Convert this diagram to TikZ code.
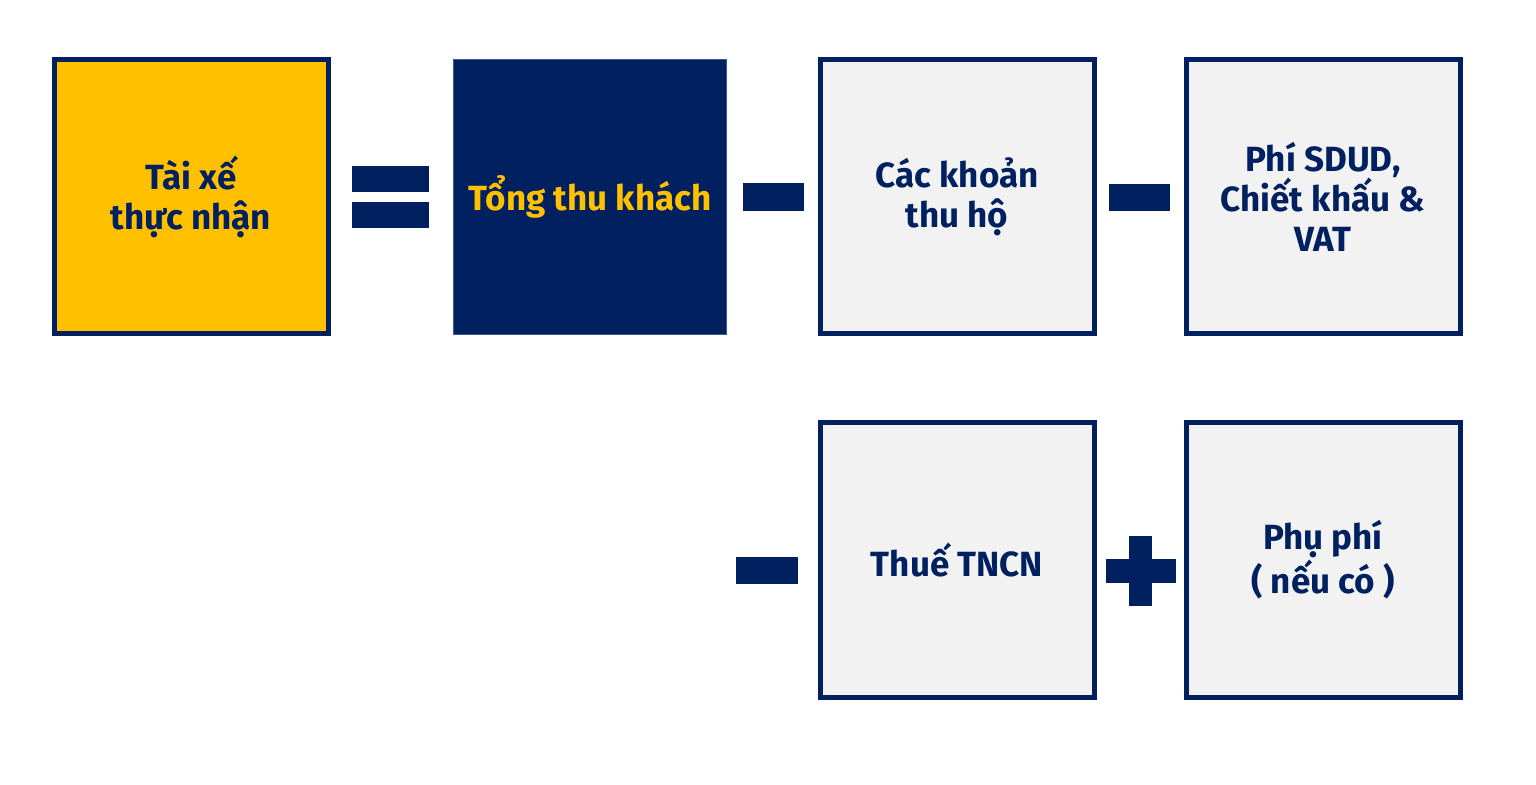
\documentclass[tikz,border=0pt]{standalone}
\usepackage{fontspec}
\setmainfont{Fira Sans}
\usepackage{xcolor}
\usepackage{tikz}

\definecolor{navy}{HTML}{002060}
\definecolor{gold}{HTML}{FFC000}
\definecolor{paper}{HTML}{F2F2F2}
\definecolor{edge}{HTML}{3A5A9A}

\tikzset{
    termbox/.style = {draw = navy, line width = 2.5pt, minimum width = 137pt, minimum height = 137pt,
        inner sep = 0pt, align = center, font = \bfseries\fontsize{17.5}{20}\selectfont, text = navy},
    opbar/.style = {fill = navy}
}

\begin{document}
\begin{tikzpicture}[x = 0.5pt, y = -0.5pt]

    \useasboundingbox (0,0) rectangle (1536,785);

    % top row
    \node [termbox, fill = gold] (driver) at (191,196.5) {Tài xế\\thực nhận};
    \node [termbox, fill = navy, draw = edge, line width = 0.5pt, minimum width = 136.5pt, minimum height = 137.5pt,
        text = gold] (total) at (590,197) {Tổng thu khách};
    \node [termbox, fill = paper] (collect) at (957,196.5) {Các khoản\\thu hộ};
    \node [termbox, fill = paper] (fees) at (1323,196.5) {Phí SDUD,\\Chiết khấu \&\\VAT};

    % bottom row
    \node [termbox, fill = paper] (tax) at (957,560) {Thuế TNCN};
    \node [termbox, fill = paper] (extra) at (1323,560) {Phụ phí\\( nếu có )};

    % equals
    \fill [opbar] (352,166) rectangle (429,192);
    \fill [opbar] (352,202) rectangle (429,228);

    % minus
    \fill [opbar] (743,183) rectangle (804,211);
    \fill [opbar] (1109,184) rectangle (1170,211);
    \fill [opbar] (736,557) rectangle (798,584);

    % plus
    \fill [opbar] (1106,559) rectangle (1176,583);
    \fill [opbar] (1129,536) rectangle (1152,606);

\end{tikzpicture}
\end{document}
